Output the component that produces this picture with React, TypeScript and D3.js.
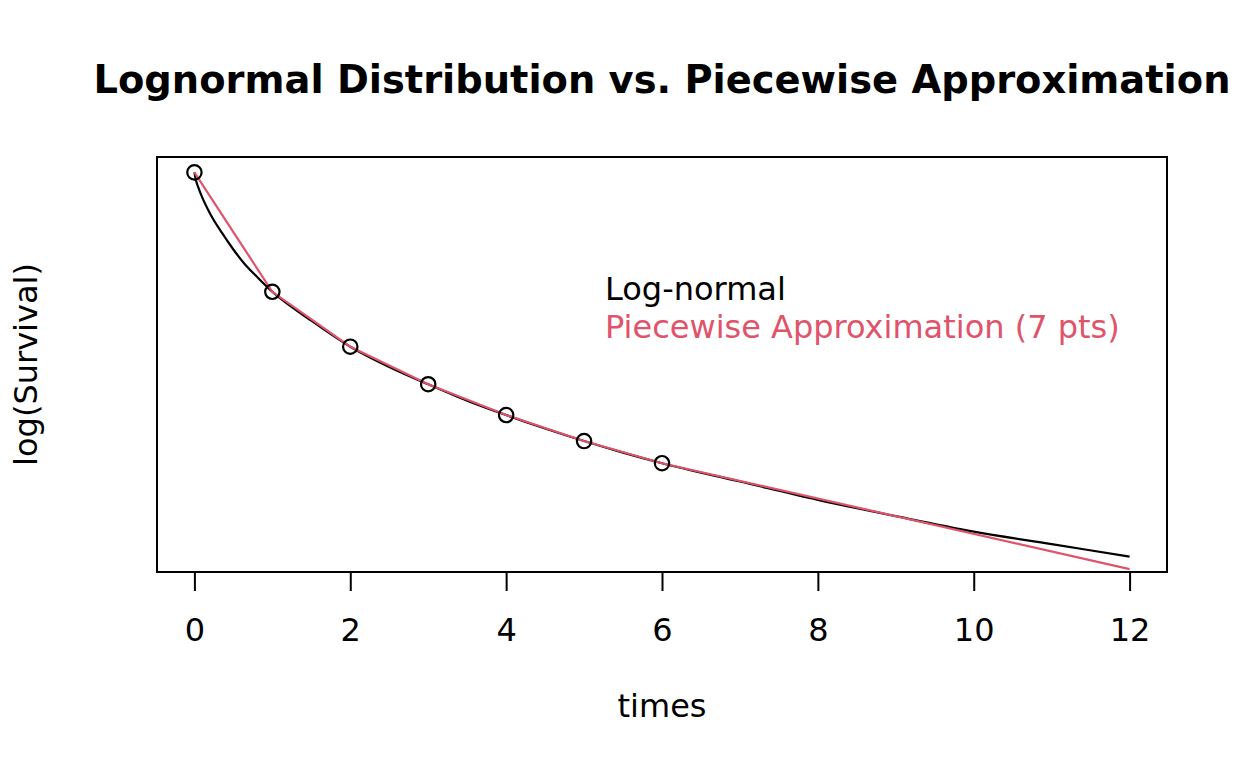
import React from "react";
import * as d3 from "d3";

// black curve: log survival of the lognormal
const curveTimes = [0, 0.02, 0.05, 0.1, 0.2, 0.35, 0.5, 0.65, 0.8, 1, 1.5, 2, 2.5, 3, 3.5, 4, 4.5, 5, 5.5, 6, 7, 8, 9, 10, 11, 12];
const curveLogSurv = [0, -0.083, -0.156, -0.26, -0.426, -0.624, -0.801, -0.957, -1.082, -1.24, -1.54, -1.81, -2.02, -2.2, -2.37, -2.52, -2.66, -2.79, -2.91, -3.02, -3.21, -3.4, -3.57, -3.73, -3.86, -3.99];

// the 7 knots of the piecewise approximation
const knotTimes = [0, 1, 2, 3, 4, 5, 6];
const knotLogSurv = [0, -1.24, -1.81, -2.2, -2.52, -2.79, -3.02];

// red line: knots plus its end at t = 12
const approxTimes = [0, 1, 2, 3, 4, 5, 6, 12];
const approxLogSurv = [0, -1.24, -1.81, -2.2, -2.52, -2.79, -3.02, -4.12];

const xTicks = [0, 2, 4, 6, 8, 10, 12];
const legendLabels = ["Log-normal", "Piecewise Approximation (7 pts)"];

const W = 1248;
const H = 768;
const plot = { left: 157, right: 1167, top: 157, bottom: 572 };
const RED = "#DF536B";
const FONT = "DejaVu Sans, sans-serif";
const LABEL_SIZE = 32;

type Pt = { t: number; v: number };

const App: React.FC = () => {
  const svgRef = React.useRef<SVGSVGElement>(null);

  React.useEffect(() => {
    const svgEl = d3.select(svgRef.current);
    svgEl.selectAll("*").remove();

    svgEl.append("rect").attr("width", W).attr("height", H).attr("fill", "white");

    // R-style 4% axis extension
    const xr = d3.extent(curveTimes) as [number, number];
    const xp = (xr[1] - xr[0]) * 0.04;
    const x = d3.scaleLinear().domain([xr[0] - xp, xr[1] + xp]).range([plot.left, plot.right]);

    const yr = d3.extent(curveLogSurv) as [number, number];
    const yp = (yr[1] - yr[0]) * 0.04;
    const y = d3.scaleLinear().domain([yr[0] - yp, yr[1] + yp]).range([plot.bottom, plot.top]);

    const curve: Pt[] = curveTimes.map((t, i) => ({ t, v: curveLogSurv[i] }));
    const approx: Pt[] = approxTimes.map((t, i) => ({ t, v: approxLogSurv[i] }));
    const knots: Pt[] = knotTimes.map((t, i) => ({ t, v: knotLogSurv[i] }));

    const line = d3
      .line<Pt>()
      .x((d) => x(d.t))
      .y((d) => y(d.v));

    const clipId = "plotClip";
    svgEl
      .append("clipPath")
      .attr("id", clipId)
      .append("rect")
      .attr("x", plot.left)
      .attr("y", plot.top)
      .attr("width", plot.right - plot.left)
      .attr("height", plot.bottom - plot.top);

    const g = svgEl.append("g").attr("clip-path", `url(#${clipId})`);

    g.append("path")
      .attr("d", line.curve(d3.curveMonotoneX)(curve)!)
      .attr("fill", "none")
      .attr("stroke", "black")
      .attr("stroke-width", 2.2);

    g.append("path")
      .attr("d", line.curve(d3.curveLinear)(approx)!)
      .attr("fill", "none")
      .attr("stroke", RED)
      .attr("stroke-width", 2.2);

    g.selectAll("circle")
      .data(knots)
      .join("circle")
      .attr("cx", (d) => x(d.t))
      .attr("cy", (d) => y(d.v))
      .attr("r", 7.2)
      .attr("fill", "none")
      .attr("stroke", "black")
      .attr("stroke-width", 2.2);

    // box
    svgEl
      .append("rect")
      .attr("x", plot.left)
      .attr("y", plot.top)
      .attr("width", plot.right - plot.left)
      .attr("height", plot.bottom - plot.top)
      .attr("fill", "none")
      .attr("stroke", "black")
      .attr("stroke-width", 2);

    // x axis
    const xAxis = d3.axisBottom(x).tickValues(xTicks).tickSize(19).tickPadding(27).tickFormat(d3.format("d"));
    const ax = svgEl.append("g").attr("transform", `translate(0,${plot.bottom})`).call(xAxis);
    ax.select(".domain")
      .attr("d", `M${x(xTicks[0])},0H${x(xTicks[xTicks.length - 1])}`)
      .attr("stroke-width", 2);
    ax.selectAll(".tick line").attr("stroke-width", 2);
    ax.selectAll(".tick text").attr("font-family", FONT).attr("font-size", LABEL_SIZE).attr("fill", "black");

    // title
    svgEl
      .append("text")
      .attr("x", (plot.left + plot.right) / 2)
      .attr("y", 93)
      .attr("text-anchor", "middle")
      .attr("font-family", FONT)
      .attr("font-weight", "bold")
      .attr("font-size", 38.4)
      .text("Lognormal Distribution vs. Piecewise Approximation");

    // axis labels
    svgEl
      .append("text")
      .attr("x", (plot.left + plot.right) / 2)
      .attr("y", 717)
      .attr("text-anchor", "middle")
      .attr("font-family", FONT)
      .attr("font-size", LABEL_SIZE)
      .text("times");

    svgEl
      .append("text")
      .attr("transform", `translate(37,${(plot.top + plot.bottom) / 2}) rotate(-90)`)
      .attr("text-anchor", "middle")
      .attr("font-family", FONT)
      .attr("font-size", LABEL_SIZE)
      .text("log(Survival)");

    // legend (no box, text only)
    const legendColors = ["black", RED];
    svgEl
      .append("g")
      .selectAll("text")
      .data(legendLabels)
      .join("text")
      .attr("x", 605)
      .attr("y", (d, i) => 300 + i * 38)
      .attr("font-family", FONT)
      .attr("font-size", LABEL_SIZE)
      .attr("fill", (d, i) => legendColors[i])
      .text((d) => d);
  }, []);

  return (
    <svg
      ref={svgRef}
      width={W}
      height={H}
      style={{ position: "absolute", left: 0, top: 0, display: "block" }}
    />
  );
};

export default App;
